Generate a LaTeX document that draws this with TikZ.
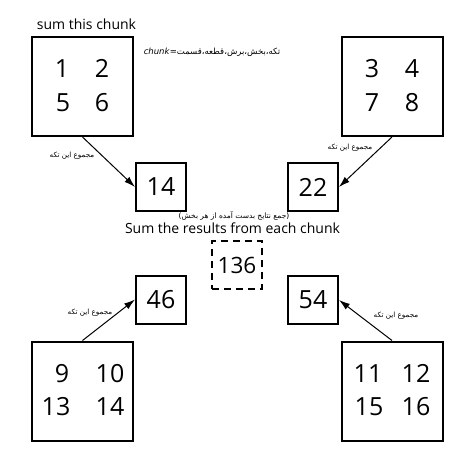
\documentclass[tikz,border=0pt]{standalone}
\usepackage{fontspec}
\setmainfont{Open Sans}
\newfontfamily\fa[Script=Arabic]{DejaVu Sans}
\TeXXeTstate=1
\usetikzlibrary{arrows.meta}
\tikzset{
  bigbox/.style={draw, line width=2pt, minimum width=101pt, minimum height=99pt, inner sep=0pt},
  smallbox/.style={draw, line width=2pt, minimum width=50pt, minimum height=48pt, inner sep=0pt, font=\fontsize{25}{30}\selectfont},
  dashbox/.style={smallbox, dash pattern=on 7pt off 5pt, font=\fontsize{22.5}{27}\selectfont},
  num/.style={anchor=base, inner sep=0pt, font=\fontsize{25}{30}\selectfont},
  lbl/.style={inner sep=0pt, font=\fa\fontsize{7.2}{9}\selectfont},
  title/.style={anchor=base, inner sep=0pt, font=\fontsize{14}{17}\selectfont},
  conn/.style={line width=1pt, -{Latex[length=11pt,width=7pt]}}
}
\begin{document}
\begin{tikzpicture}[x=1pt,y=-1pt]
\useasboundingbox (0,0) rectangle (474,474);
% big boxes
\node[bigbox] (tl) at (82.5,86.5) {};
\node[bigbox] (tr) at (392,86.5) {};
\node[bigbox] (bl) at (82.5,391) {};
\node[bigbox] (br) at (392,391) {};
% numbers
\node[num] (a1) at (62,77) {1};
\node[num] (a2) at (102,77) {2};
\node[num] (a5) at (63,111) {5};
\node[num] (a6) at (102,111) {6};
\node[num] (b3) at (372,77) {3};
\node[num] (b4) at (412,77) {4};
\node[num] (b7) at (372,111) {7};
\node[num] (b8) at (412,111) {8};
\node[num] (c9) at (62,382) {9};
\node[num] (c10) at (110,382) {10};
\node[num] (c13) at (56,415) {13};
\node[num] (c14) at (110,415) {14};
\node[num] (d11) at (368,382) {11};
\node[num] (d12) at (416,382) {12};
\node[num] (d15) at (369,415) {15};
\node[num] (d16) at (416,415) {16};
% result boxes
\node[smallbox] (n14) at (161,187) {14};
\node[smallbox] (n22) at (313,187) {22};
\node[smallbox] (n46) at (161,299.5) {46};
\node[smallbox] (n54) at (313,300) {54};
\node[dashbox] (n136) at (237,265) {136};
% texts
\node[title] (t1) at (86.5,29) {sum this chunk};
\node[title] (t2) at (232.5,233) {Sum the results from each chunk};
\node[inner sep=0pt, font=\fa\fontsize{7.5}{9}\selectfont] (t3) at (234,216) {\beginR(جمع نتایج بدست آمده از هر بخش)\endR};
\node[inner sep=0pt, font=\fa\fontsize{8.5}{10}\selectfont] (t4) at (212,52) {\beginR تکه،بخش،برش،قطعه،قسمت=\beginL\textit{chunk}\endL\endR};
% connectors
\draw[conn] (tl.south) -- (n14.west);
\draw[conn] (tr.south) -- (n22.east);
\draw[conn] (bl.north) -- (n46.west);
\draw[conn] (br.north) -- (n54.east);
% connector labels
\node[lbl] (l1) at (72,156) {\beginR مجموع این تکه\endR};
\node[lbl] (l2) at (350,148) {\beginR مجموع این تکه\endR};
\node[lbl] (l3) at (90,313) {\beginR مجموع این تکه\endR};
\node[lbl] (l4) at (396,316) {\beginR مجموع این تکه\endR};
\end{tikzpicture}
\end{document}
